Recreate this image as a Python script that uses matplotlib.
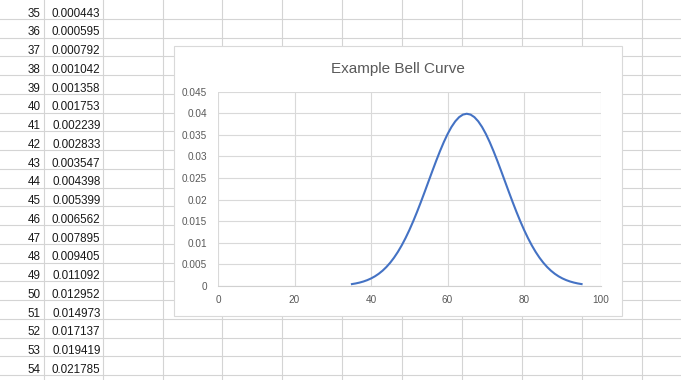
import matplotlib.pyplot as plt
from matplotlib.patches import Rectangle
from matplotlib.ticker import FuncFormatter

plt.rcParams['font.family'] = ['Liberation Sans', 'DejaVu Sans']

# x values and normal pdf values (mean 65, sd 10) as shown in the sheet / chart
x_vals = [35, 36, 37, 38, 39, 40, 41, 42, 43, 44, 45, 46, 47, 48, 49, 50,
          51, 52, 53, 54, 55, 56, 57, 58, 59, 60, 61, 62, 63, 64, 65, 66,
          67, 68, 69, 70, 71, 72, 73, 74, 75, 76, 77, 78, 79, 80, 81, 82,
          83, 84, 85, 86, 87, 88, 89, 90, 91, 92, 93, 94, 95]
y_vals = [0.000443, 0.000595, 0.000792, 0.001042, 0.001358, 0.001753,
          0.002239, 0.002833, 0.003547, 0.004398, 0.005399, 0.006562,
          0.007895, 0.009405, 0.011092, 0.012952, 0.014973, 0.017137,
          0.019419, 0.021785, 0.024197, 0.026609, 0.028969, 0.031225,
          0.033322, 0.035207, 0.036827, 0.038139, 0.039104, 0.039695,
          0.039894, 0.039695, 0.039104, 0.038139, 0.036827, 0.035207,
          0.033322, 0.031225, 0.028969, 0.026609, 0.024197, 0.021785,
          0.019419, 0.017137, 0.014973, 0.012952, 0.011092, 0.009405,
          0.007895, 0.006562, 0.005399, 0.004398, 0.003547, 0.002833,
          0.002239, 0.001753, 0.001358, 0.001042, 0.000792, 0.000595,
          0.000443]
n_rows_visible = 20

title = "Example Bell Curve"
x_ticks = [0, 20, 40, 60, 80, 100]
y_ticks = [0, 0.005, 0.01, 0.015, 0.02, 0.025, 0.03, 0.035, 0.04, 0.045]

W, H = 681, 380
fig = plt.figure(figsize=(W / 100, H / 100), dpi=100)

# spreadsheet background in pixel coordinates
bg = fig.add_axes([0, 0, 1, 1])
bg.set_xlim(0, W)
bg.set_ylim(H, 0)
bg.axis('off')

row_h = 18.74
grid_col = '#d4d4d4'
for j in range(n_rows_visible):
    bg.axhline(19 + row_h * j, color=grid_col, lw=0.8, zorder=1)
for cx in [44, 103, 163, 222, 282, 342, 402, 462, 522, 582, 642]:
    bg.axvline(cx, color=grid_col, lw=0.8, zorder=1)

# cell contents (first rows of the data)
for i in range(n_rows_visible):
    base = 16.7 + row_h * i
    bg.text(40.5, base, str(x_vals[i]), ha='right', va='baseline',
            fontsize=8.4, color='#1a1a1a', zorder=2)
    bg.text(100.5, base, f"{y_vals[i]:.6f}", ha='right', va='baseline',
            fontsize=8.4, color='#1a1a1a', zorder=2)

# chart box
bg.add_patch(Rectangle((173.5, 45.5), 448.5, 270, facecolor='white',
                       edgecolor='#d9d9d9', lw=0.8, zorder=5))
bg.text(398, 73.3, title, ha='center', va='baseline', fontsize=11,
        color='#595959', zorder=6)

# plot area
left, right, top, bottom = 218, 600.7, 91.7, 286
ax = fig.add_axes([left / W, (H - bottom) / H, (right - left) / W, (bottom - top) / H])
ax.set_facecolor('none')
ax.plot(x_vals, y_vals, color='#4472C4', lw=1.5, zorder=3)
ax.set_xlim(0, 100)
ax.set_ylim(0, 0.045)
ax.set_xticks(x_ticks)
ax.set_yticks(y_ticks)
ax.yaxis.set_major_formatter(FuncFormatter(lambda v, p: f"{v:g}"))
ax.grid(True, color='#d9d9d9', lw=0.8)
ax.set_axisbelow(True)
for s in ['top', 'right', 'left']:
    ax.spines[s].set_visible(False)
ax.spines['bottom'].set_color('#d0d0d0')
ax.spines['bottom'].set_linewidth(0.8)
ax.tick_params(axis='both', length=0, colors='#595959', labelsize=7.2)
ax.tick_params(axis='y', pad=7.9)
ax.tick_params(axis='x', pad=6.3)

plt.savefig('out.png', dpi=100)
